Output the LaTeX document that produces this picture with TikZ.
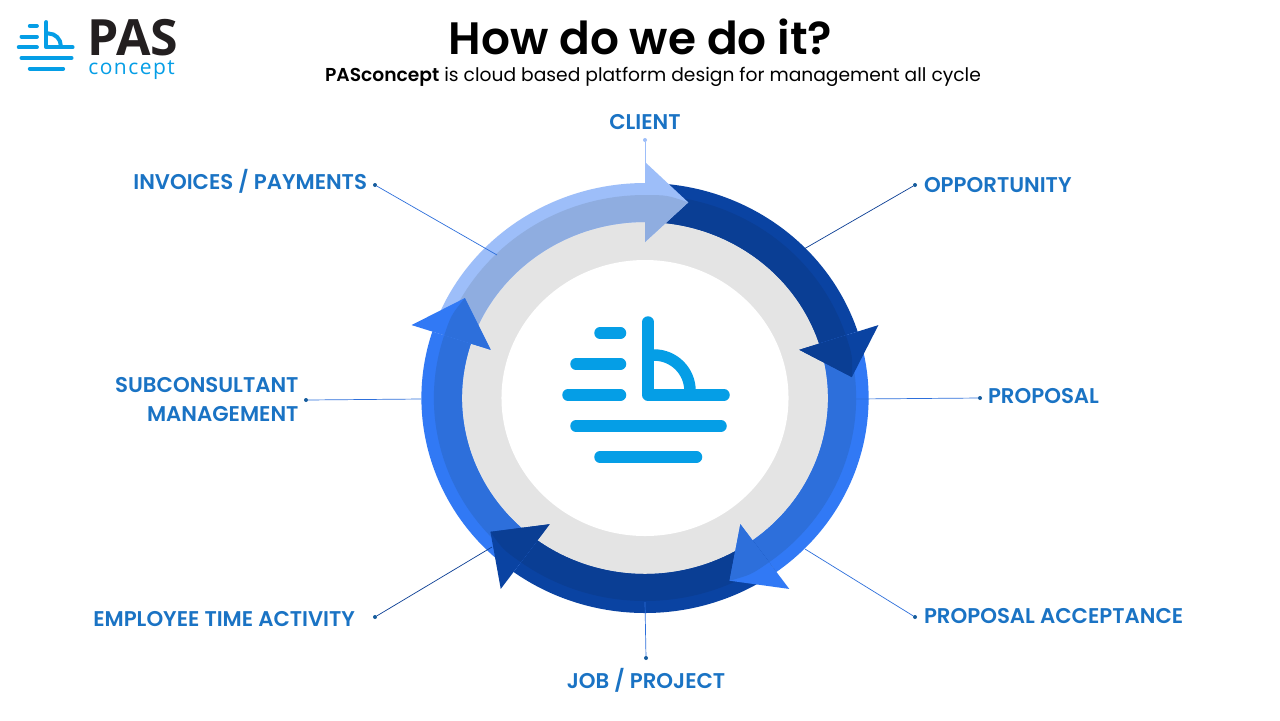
\documentclass[tikz,border=0pt]{standalone}
\usepackage{fontspec}
\usepackage{graphicx}
\setmainfont{Poppins}[BoldFont={Poppins SemiBold}]
\newfontfamily\logofont{Open Sans}
\definecolor{lightout}{HTML}{9DBEF9}
\definecolor{lightin}{HTML}{8FADE0}
\definecolor{darkout}{HTML}{0A43A2}
\definecolor{darkin}{HTML}{0A3E94}
\definecolor{blueout}{HTML}{3179F5}
\definecolor{bluein}{HTML}{2D6FDB}
\definecolor{ringgray}{HTML}{E4E4E4}
\definecolor{markblue}{HTML}{059EE6}
\definecolor{labelblue}{HTML}{1A73C4}
\definecolor{logodark}{HTML}{231F20}
\tikzset{
  ringlabel/.style={text=labelblue,font=\bfseries\fontsize{10.65}{14.5}\selectfont,inner sep=0pt,outer sep=0pt},
  leaddot/.style={circle,fill=labelblue!80!black,inner sep=0pt,minimum size=2pt,outer sep=0pt},
  leadline/.style={line width=0.35pt},
  markline/.style={draw=markblue,line cap=round,line join=round},
}
\newcommand{\pasmark}[1]{%
  \draw[markline,line width=#1] (600,333) -- (620.5,333);
  \draw[markline,line width=#1] (576,364) -- (620.5,364);
  \draw[markline,line width=#1] (568,395) -- (620.5,395);
  \draw[markline,line width=#1] (648,322) -- (648,395) -- (724,395);
  \draw[markline,line width=#1,line cap=butt] (648,355) -- (654,355) .. controls (674,355) and (690,371) .. (690,391) -- (690,395);
  \draw[markline,line width=#1] (576,426) -- (721,426);
  \draw[markline,line width=#1] (600,457) -- (696.5,457);
}
\begin{document}
\begin{tikzpicture}[x=0.5pt,y=-0.5pt]
\path[use as bounding box,fill=white] (0,0) rectangle (1280,720);

% logo
\begin{scope}[shift={(-177.2,-89)},scale=0.345]
  \pasmark{2pt}
\end{scope}
\node[inner sep=0pt,anchor=base west,text=logodark,font=\logofont\bfseries\fontsize{25}{25}\selectfont] (pas) at (87,55.5) {\scalebox{1}[1]{PAS}};
\node[inner sep=0pt,anchor=base west,text=markblue,font=\logofont\fontsize{10.5}{10.5}\selectfont] (concept) at (88,74.5) {\addfontfeature{LetterSpace=7}concept};

% title
\node[inner sep=0pt,anchor=base,font=\bfseries\fontsize{22.7}{23}\selectfont,text=black] (title) at (640.5,54) {How do we do it?};
\node[inner sep=0pt,anchor=base,font=\fontsize{9.34}{10}\selectfont,text=black] (subtitle) at (653,81) {\textbf{PASconcept} is cloud based platform design for management all cycle};

% ring
\begin{scope}[shift={(645,398)},yscale=-1,xscale=1.04]
  \fill[ringgray] (0,0) circle[radius=176];
  \fill[white] (0,0) circle[radius=138];
  \foreach \ba/\co/\ci in {90/lightout/lightin,18/darkout/darkin,-54/blueout/bluein,-126/darkout/darkin,162/blueout/bluein}{
    \pgfmathsetmacro{\bs}{\ba+72}
    \fill[\co] (\bs:215) arc[start angle=\bs,end angle=\ba,radius=215] -- (\ba:176) arc[start angle=\ba,end angle=\bs,radius=176] -- cycle;
    \fill[\ci] (\bs:203) arc[start angle=\bs,end angle=\ba,radius=203] -- (\ba:176) arc[start angle=\ba,end angle=\bs,radius=176] -- cycle;
  }
  \foreach \ba/\co/\ci in {90/lightout/lightin,18/darkout/darkin,-54/blueout/bluein,-126/darkout/darkin,162/blueout/bluein}{
    \pgfmathsetmacro{\bt}{\ba-12}
    \pgfmathsetmacro{\bm}{\ba-6}
    \fill[\co] (\ba:236) -- (\bt:200) -- (\ba:156) -- cycle;
    \fill[\ci] (\ba:203) .. controls (\bm:204) .. (\bt:200) -- (\ba:156) -- cycle;
  }
\end{scope}

% centre mark
\pasmark{5.75pt}

% labels, dots, leader lines
\node[ringlabel,anchor=base] (client) at (645,129.5) {CLIENT};
\node[ringlabel,anchor=base west] (opportunity) at (924,192.5) {OPPORTUNITY};
\node[ringlabel,anchor=base west] (proposal) at (988,403.5) {PROPOSAL};
\node[ringlabel,anchor=base west] (acceptance) at (924,623.5) {PROPOSAL ACCEPTANCE};
\node[ringlabel,anchor=base] (job) at (646,688.5) {JOB / PROJECT};
\node[ringlabel,anchor=base east] (employee) at (355,626) {EMPLOYEE TIME ACTIVITY};
\node[ringlabel,anchor=east,align=right] (sub) at (298.5,399.5) {SUBCONSULTANT\\MANAGEMENT};
\node[ringlabel,anchor=base east] (invoices) at (367,189.5) {INVOICES / PAYMENTS};

\node[leaddot,fill=lightout] (dclient) at (645,140) {};
\node[leaddot] (dopp) at (915,185) {};
\node[leaddot] (dprop) at (980,398) {};
\node[leaddot] (dacc) at (915,617) {};
\node[leaddot] (djob) at (646,658) {};
\node[leaddot] (demp) at (375,617) {};
\node[leaddot] (dsub) at (306,400) {};
\node[leaddot] (dinv) at (375,185) {};

\coordinate (cclient) at (645,165);
\coordinate (copp) at (804,249);
\coordinate (cprop) at (855,399);
\coordinate (cacc) at (805,549);
\coordinate (cjob) at (645,602);
\coordinate (cemp) at (492,547);
\coordinate (csub) at (421,399);
\coordinate (cinv) at (497,255);

\draw[leadline,draw=lightout] (dclient) -- (cclient);
\draw[leadline,draw=darkin] (dopp) -- (copp);
\draw[leadline,draw=bluein] (dprop) -- (cprop);
\draw[leadline,draw=bluein] (dacc) -- (cacc);
\draw[leadline,draw=bluein] (djob) -- (cjob);
\draw[leadline,draw=darkin] (demp) -- (cemp);
\draw[leadline,draw=bluein] (dsub) -- (csub);
\draw[leadline,draw=bluein] (dinv) -- (cinv);
\end{tikzpicture}
\end{document}
